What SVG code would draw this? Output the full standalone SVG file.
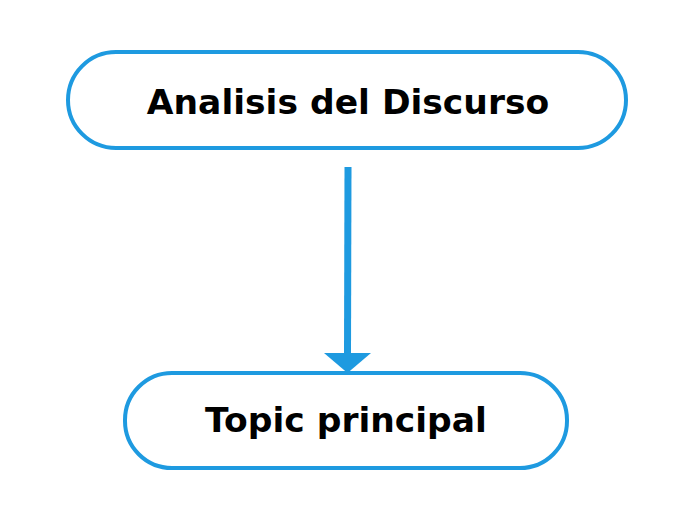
<svg xmlns="http://www.w3.org/2000/svg" width="696" height="520" viewBox="0 0 696 520">
<style>
.node{fill:#ffffff;stroke:#1E9AE0;stroke-width:4}
.lbl{font-family:"DejaVu Sans",Verdana,sans-serif;font-weight:bold;font-size:34.5px;fill:#000000;text-anchor:middle}
.edge{stroke:#1E9AE0;stroke-width:7;fill:none}
.head{fill:#1E9AE0}
</style>
<rect width="696" height="520" fill="#ffffff"/>
<g id="connectors">
<line class="edge" x1="348" y1="167" x2="347.5" y2="356"/>
<polygon class="head" points="324,353 371,353 347.5,373"/>
</g>
<g id="node-analisis">
<rect class="node" x="68" y="52" width="558" height="96" rx="48" ry="48"/>
<text class="lbl" x="348" y="114">Analisis del Discurso</text>
</g>
<g id="node-topic">
<rect class="node" x="125" y="373" width="442" height="95" rx="47" ry="47"/>
<text class="lbl" x="346" y="432">Topic principal</text>
</g>
</svg>
